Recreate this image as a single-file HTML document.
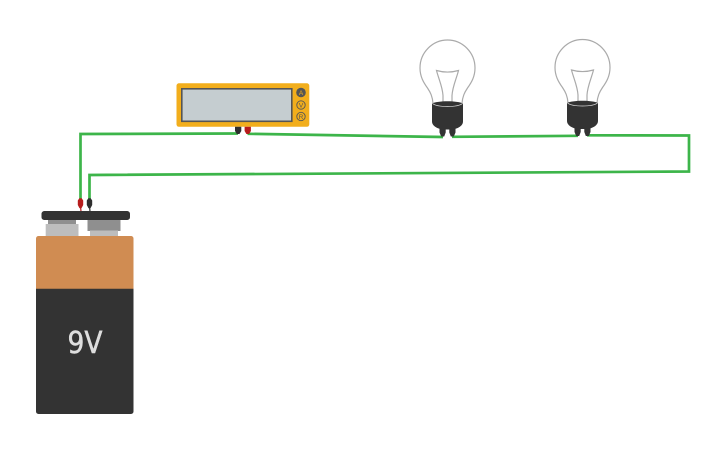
<!DOCTYPE html>
<html>
<head>
<meta charset="utf-8">
<style>
html,body{margin:0;padding:0;background:#fff;width:725px;height:453px;overflow:hidden}
svg{display:block}
</style>
</head>
<body>
<svg width="725" height="453" viewBox="0 0 725 453" xmlns="http://www.w3.org/2000/svg">
<defs>
<g id="bulb">
<path d="M-14.500 63 C-15 56 -17 52 -20 47.500 C-24 42 -27.500 36 -27.500 27.500 C-27.500 12 -15 -0.500 0 -0.500 C15 -0.500 27.500 12 27.500 27.500 C27.500 36 24 42 20 47.500 C17 52 15 56 14.500 63" fill="#fff" stroke="#aaa" stroke-width="1.200"/>
<path d="M-4.500 63 L-4.500 55 C-5 46 -9 38 -11 30 C-4 32 4 32 11 30 C9 38 5 46 4.500 55 L4.500 63" fill="none" stroke="#aaa" stroke-width="1.200"/>
<path d="M-15.500 63 C-10 60 10 60 15.500 63 L15.500 81 C15.500 85 11 88 5 89 L-5 89 C-11 88 -15.500 85 -15.500 81 Z" fill="#333"/>
<path d="M-15 63 C-10 67 10 67 15 63" fill="none" stroke="#ddd" stroke-width="0.800"/>
<path d="M-8 87 L-1.800 87 L-1.800 92 L-3.300 96 L-6.300 96 L-8 92 Z" fill="#333"/>
<path d="M1.800 87 L8 87 L8 92 L6.300 96 L3.300 96 L1.800 92 Z" fill="#333"/>
</g>
</defs>

<!-- wires -->
<g fill="none" stroke="#3db54a" stroke-width="2.700" stroke-linejoin="miter">
<path d="M238 133.500 L80.500 134 L80.500 201"/>
<path d="M247.500 133.800 L443 137"/>
<path d="M452 136.800 L578 135.800"/>
<path d="M587 135.300 L689 135.500 L689 171.500 L89.500 175 L89.500 201"/>
</g>

<!-- multimeter -->
<rect x="176.500" y="83.300" width="132.800" height="43.500" rx="2.500" fill="#f2ae1c"/>
<rect x="181.800" y="88.800" width="110" height="32.500" fill="#c5cdd0" stroke="#555" stroke-width="1.600"/>
<circle cx="301" cy="92.500" r="4.800" fill="#555"/>
<circle cx="301" cy="105" r="4.200" fill="none" stroke="#555" stroke-width="0.900"/>
<circle cx="301" cy="116.500" r="4.200" fill="none" stroke="#555" stroke-width="0.900"/>
<text x="301" y="95" font-family="Liberation Sans, sans-serif" font-size="6.500" text-anchor="middle" fill="#f2ae1c">A</text>
<text x="301" y="107.400" font-family="Liberation Sans, sans-serif" font-size="6.500" text-anchor="middle" fill="#555">V</text>
<text x="301" y="118.900" font-family="Liberation Sans, sans-serif" font-size="6.500" text-anchor="middle" fill="#555">R</text>
<path d="M235 126.800 H241.300 V131 L239.500 134 H236.800 L235 131 Z" fill="#2e2e2e"/>
<path d="M244.600 126.800 H250.900 V131 L249.100 134 H246.400 L244.600 131 Z" fill="#b71c1c"/>

<!-- bulbs -->
<use href="#bulb" x="447.500" y="40.500"/>
<use href="#bulb" x="582.500" y="40"/>

<!-- battery -->
<rect x="48" y="219" width="28" height="6" fill="#8f8f8f"/>
<rect x="45.700" y="224" width="32.800" height="13" fill="#bdbdbd"/>
<rect x="87.500" y="219" width="33" height="12" fill="#8f8f8f"/>
<rect x="90" y="230.500" width="28" height="6.500" fill="#bdbdbd"/>
<rect x="41.500" y="211" width="88.500" height="9" rx="2.800" fill="#333"/>
<path d="M36 289 V238.500 A2.500 2.500 0 0 1 38.500 236 H131 A2.500 2.500 0 0 1 133.500 238.500 V289 Z" fill="#d08c52"/>
<path d="M36 288.700 H133.500 V411.500 A2.500 2.500 0 0 1 131 414 H38.500 A2.500 2.500 0 0 1 36 411.500 Z" fill="#333"/>
<text x="67.500" y="353" font-family="DejaVu Sans, sans-serif" font-size="30" fill="#dedede" stroke="#dedede" stroke-width="0.500" textLength="35" lengthAdjust="spacingAndGlyphs">9V</text>

<!-- battery leads -->
<path d="M79.800 201 L81 211" stroke="#b71c1c" stroke-width="1.200" fill="none"/>
<path d="M88.800 201 L90 211" stroke="#2e2e2e" stroke-width="1.200" fill="none"/>
<path d="M77.800 200.500 L79.300 198.300 H81.700 L83.200 200.500 V205 L81.500 208.300 H79.500 L77.800 205 Z" fill="#b71c1c"/>
<path d="M86.800 200.500 L88.300 198.300 H90.700 L92.200 200.500 V205 L90.500 208.300 H88.500 L86.800 205 Z" fill="#2e2e2e"/>
</svg>
</body>
</html>
